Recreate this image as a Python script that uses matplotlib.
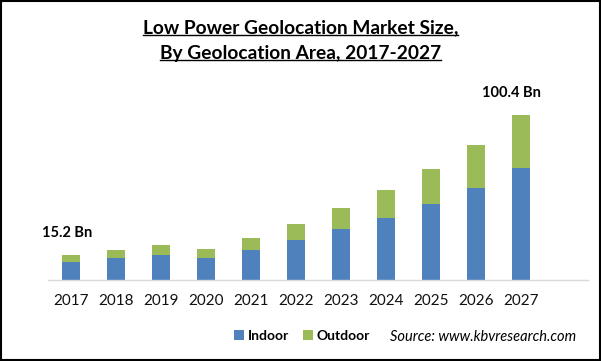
import numpy as np
import matplotlib
matplotlib.use("Agg")
import matplotlib.pyplot as plt
from matplotlib.lines import Line2D
from matplotlib.patches import Rectangle

# market size, USD Bn
years = ['2017', '2018', '2019', '2020', '2021', '2022', '2023', '2024', '2025', '2026', '2027']
indoor = [11.1, 13.4, 15.2, 13.4, 18.2, 24.3, 31.0, 37.7, 46.2, 55.9, 68.1]
total = [15.2, 18.2, 21.3, 18.8, 25.5, 34.0, 43.8, 54.7, 67.5, 82.1, 100.4]
outdoor = [t - i for t, i in zip(total, indoor)]

blue = '#4F81BD'
green = '#9BBB59'
plt.rcParams['font.family'] = ['Lato', 'DejaVu Sans']

W, H = 601, 361
fig = plt.figure(figsize=(W / 100, H / 100), dpi=100)

# axes placed in pixel terms
left, right, base, top = 48, 588, 280, 80
ax = fig.add_axes([left / W, 1 - base / H, (right - left) / W, (base - top) / H])
x = np.arange(len(years))
ax.bar(x, indoor, width=0.40, color=blue, label='Indoor')
ax.bar(x, outdoor, width=0.40, bottom=indoor, color=green, label='Outdoor')
ax.set_xlim(-0.512, 11.49)
ax.set_ylim(0, 121.6)
ax.set_yticks([])
ax.set_xticks(x)
ax.set_xticklabels(years, fontsize=11, color='#111111')
ax.tick_params(axis='x', length=0, pad=10)
for s in ['top', 'right', 'left']:
    ax.spines[s].set_visible(False)
ax.spines['bottom'].set_color('#d9d9d9')
ax.spines['bottom'].set_linewidth(1)

ax.annotate('15.2 Bn', (0, total[0]), xytext=(-3, 11), textcoords='offset points',
            ha='center', va='bottom', fontsize=10.5, fontweight='bold')
ax.annotate('100.4 Bn', (10, total[-1]), xytext=(-7, 11), textcoords='offset points',
            ha='center', va='bottom', fontsize=10.5, fontweight='bold')

# title, underlined
t1 = fig.text(0.5, 1 - 28 / H, 'Low Power Geolocation Market Size,', ha='center', va='center',
              fontsize=13.8, fontweight='bold')
t2 = fig.text(0.5, 1 - 53 / H, 'By Geolocation Area, 2017-2027', ha='center', va='center',
              fontsize=13.8, fontweight='bold')
fig.canvas.draw()
r = fig.canvas.get_renderer()
for t in (t1, t2):
    bb = t.get_window_extent(r).transformed(fig.transFigure.inverted())
    fig.add_artist(Line2D([bb.x0, bb.x1], [bb.y0 + 0.003, bb.y0 + 0.003],
                          transform=fig.transFigure, color='black', lw=1))

# legend and source
leg = fig.legend(loc='center', bbox_to_anchor=(302 / W, 1 - 336 / H), ncol=2, frameon=False,
                 handlelength=0.7, handleheight=0.7, handletextpad=0.3, columnspacing=1.0,
                 prop={'weight': 'bold', 'size': 10})
fig.text(390 / W, 1 - 337 / H, 'Source: www.kbvresearch.com', ha='left', va='center',
         fontsize=10.5, style='italic')

fig.add_artist(Rectangle((0.002, 0.003), 0.996, 0.994, transform=fig.transFigure,
                         fill=False, edgecolor='black', lw=1.5))

fig.savefig('out.png', dpi=100)
